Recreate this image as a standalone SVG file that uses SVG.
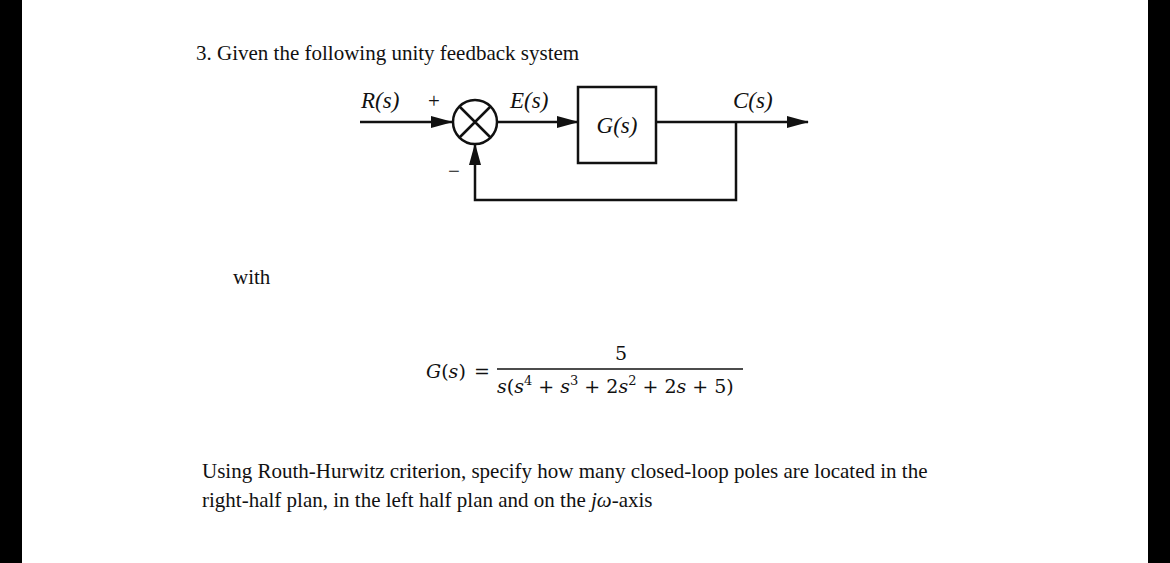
<svg xmlns="http://www.w3.org/2000/svg" width="1170" height="563" viewBox="0 0 1170 563">
<defs>
<style>
.t{font-family:"Liberation Serif",serif;font-size:21px;fill:#111}
.i{font-family:"Liberation Serif",serif;font-size:23px;font-style:italic;fill:#111}
.m{font-family:"DejaVu Serif","Liberation Serif",serif;font-size:19px;fill:#111}
.l{stroke:#111;stroke-width:2.5;fill:none}
</style>
<marker id="a" markerWidth="10" markerHeight="8" refX="9" refY="4" orient="auto" markerUnits="userSpaceOnUse" viewBox="0 0 10 8"><path d="M0,0 L10,4 L0,8Z" fill="#111"/></marker>
<marker id="b" markerWidth="22" markerHeight="12" refX="21" refY="6" orient="auto" markerUnits="userSpaceOnUse" viewBox="0 0 22 12"><path d="M0,0 L22,6 L0,12Z" fill="#111"/></marker>
</defs>
<rect width="1170" height="563" fill="#fff"/>
<rect x="0" y="0" width="22" height="563" fill="#000"/>
<rect x="1148" y="0" width="22" height="563" fill="#000"/>
<text class="t" x="196" y="60">3.   Given the following unity feedback system</text>
<g id="sum"><circle cx="475" cy="122" r="22" class="l"/><path d="M459,106 L491,138 M491,106 L459,138" class="l"/></g>
<g id="block"><rect x="578" y="87" width="78" height="76" class="l"/><text class="i" x="617" y="133" text-anchor="middle">G(s)</text></g>
<g id="connectors">
<path d="M360,122 L452,122" class="l" marker-end="url(#b)"/>
<path d="M497,122 L578,122" class="l" marker-end="url(#b)"/>
<path d="M656,122 L808,122" class="l" marker-end="url(#b)"/>
<path d="M736,122 L736,200 L475,200 L475,144" class="l" marker-end="url(#b)"/>
</g>
<text class="i" x="361" y="108">R(s)</text>
<text class="t" x="428" y="108">+</text>
<text class="t" x="448" y="178">−</text>
<text class="i" x="510" y="108">E(s)</text>
<text class="i" x="733" y="108">C(s)</text>
<text class="t" x="233" y="284">with</text>
<g id="eq">
<text class="m" x="426" y="378" font-style="italic">G<tspan font-style="normal">(</tspan>s<tspan font-style="normal">)</tspan></text>
<text class="m" x="474" y="378">=</text>
<text class="m" x="621" y="360" text-anchor="middle">5</text>
<line x1="497" y1="369" x2="743" y2="369" stroke="#111" stroke-width="1.5"/>
<text class="m" x="497" y="393"><tspan font-style="italic">s</tspan>(<tspan font-style="italic">s</tspan><tspan font-size="13" dy="-8">4</tspan><tspan dy="8"> + </tspan><tspan font-style="italic">s</tspan><tspan font-size="13" dy="-8">3</tspan><tspan dy="8"> + 2</tspan><tspan font-style="italic">s</tspan><tspan font-size="13" dy="-8">2</tspan><tspan dy="8"> + 2</tspan><tspan font-style="italic">s</tspan> + 5)</text>
</g>
<text class="t" x="202" y="478">Using Routh-Hurwitz criterion, specify how many closed-loop poles are located in the</text>
<text class="t" x="202" y="507">right-half plan, in the left half plan and on the <tspan font-style="italic">jω</tspan>-axis</text>
</svg>
